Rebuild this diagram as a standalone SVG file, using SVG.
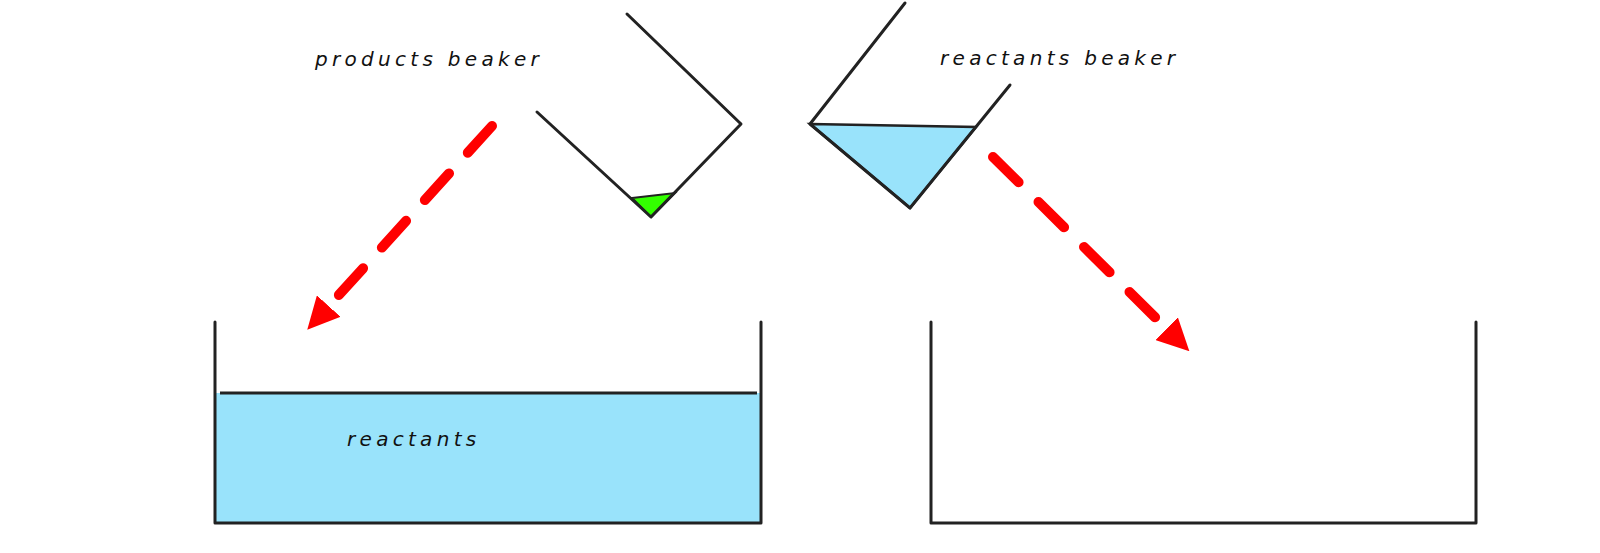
<svg xmlns="http://www.w3.org/2000/svg" width="1600" height="553" viewBox="0 0 1600 553">
<style>
.b{fill:none;stroke:#222;stroke-width:3;stroke-linejoin:round;stroke-linecap:round}
.t{font-family:"DejaVu Sans",sans-serif;font-style:italic;font-size:20px;letter-spacing:4.3px;fill:#111}
.a{fill:none;stroke:#f00;stroke-width:10;stroke-dasharray:36,28;stroke-linecap:round}
</style>
<defs><marker id="m" viewBox="0 0 10 10" refX="5" refY="5" markerWidth="3.2" markerHeight="3.2" orient="auto" markerUnits="strokeWidth"><path d="M0,0L10,5L0,10Z" fill="#f00"/></marker></defs>
<rect width="1600" height="553" fill="#fff"/>
<g id="tilt-left">
<polygon points="632,198 675,193 651,217" fill="#33ff00" stroke="#222" stroke-width="2"/>
<polyline class="b" points="537,112 651,217 741,124 627,14"/>
</g>
<g id="tilt-right">
<polygon points="810,124 976,127 910,208" fill="#99e3fb" stroke="#222" stroke-width="2.5"/>
<polyline class="b" points="905,3 810,124 910,208 1010,85"/>
</g>
<g id="beaker-left">
<rect x="216" y="393" width="545" height="130" fill="#99e3fb"/>
<line x1="220" y1="393" x2="757" y2="393" stroke="#222" stroke-width="3"/>
<polyline class="b" points="215,322 215,523 761,523 761,322"/>
<text class="t" x="347" y="446">reactants</text>
</g>
<g id="beaker-right">
<polyline class="b" points="931,322 931,523 1476,523 1476,322"/>
</g>
<g id="labels">
<text class="t" x="315" y="66">products beaker</text>
<text class="t" x="940" y="65">reactants beaker</text>
</g>
<g id="connectors">
<path class="a" d="M492,126 L318,318" marker-end="url(#m)"/>
<path class="a" d="M993,157 L1178,340" marker-end="url(#m)"/>
</g>
</svg>
